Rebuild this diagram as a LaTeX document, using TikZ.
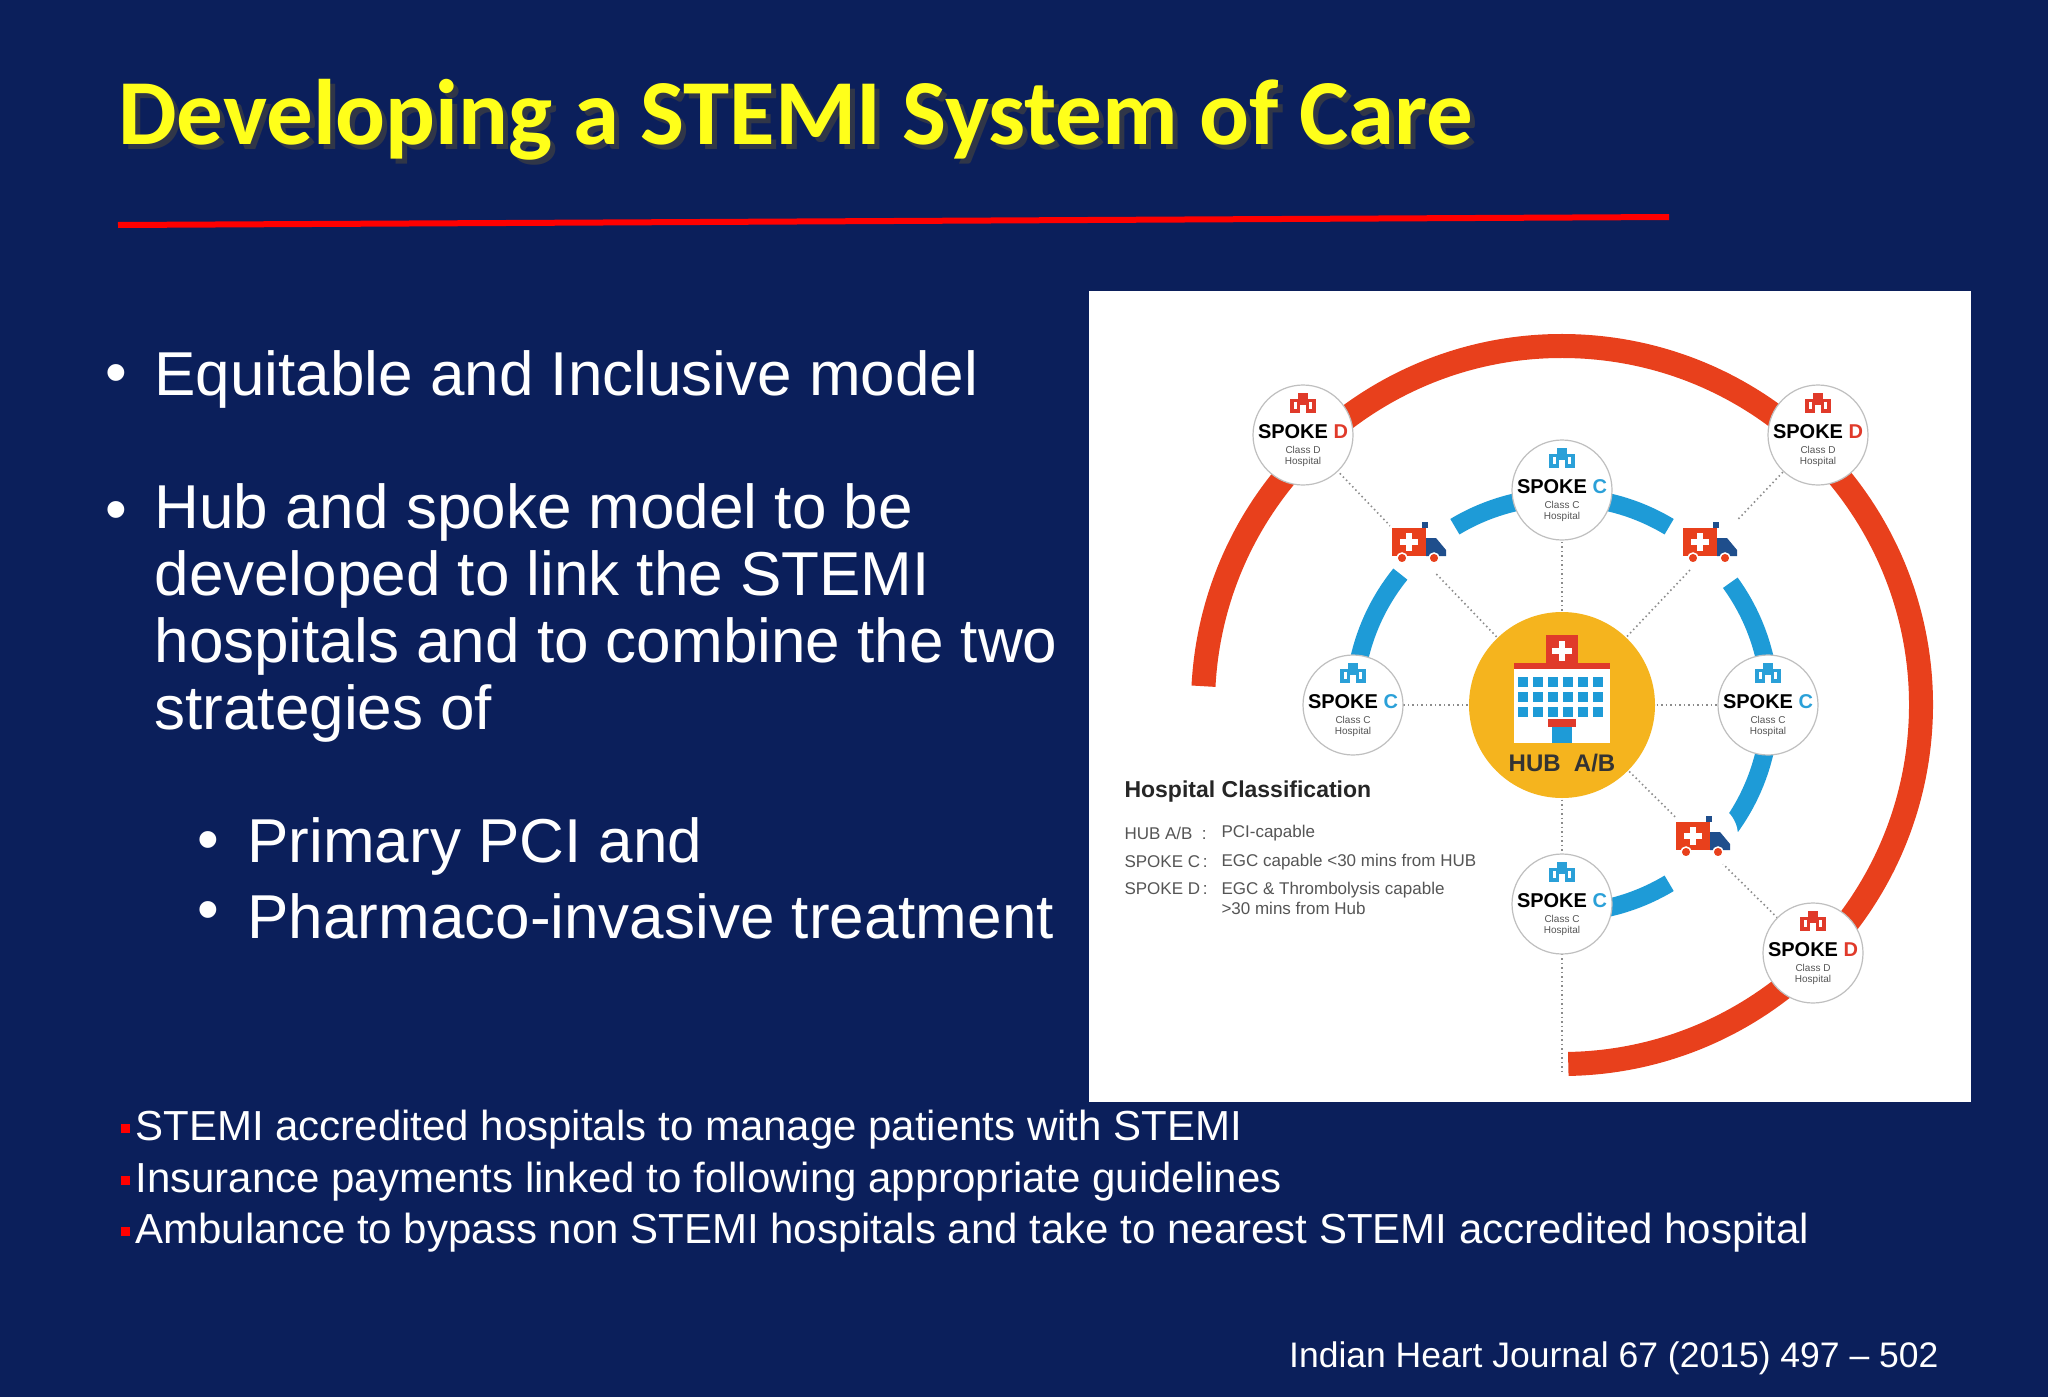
\documentclass[tikz,border=0pt]{standalone}
\usepackage{fontspec}
\setmainfont{Liberation Sans}
\newfontfamily\titlefont{Carlito}
\definecolor{navy}{HTML}{0B1F5B}
\definecolor{ttl}{HTML}{FFFF1A}
\definecolor{redring}{HTML}{E8401C}
\definecolor{bluering}{HTML}{1E9BD7}
\definecolor{hubor}{HTML}{F5B41E}
\definecolor{dred}{HTML}{E03A2A}
\definecolor{cblue}{HTML}{2AA0D8}
\definecolor{cab}{HTML}{1F4E8C}
\definecolor{txtg}{HTML}{555555}
\tikzset{
  spokebox/.style={circle,draw=black!25,line width=1.2pt,fill=white,minimum size=100pt,inner sep=0pt},
  dotl/.style={draw=black!45,line width=1.6pt,dash pattern=on 1.5pt off 3pt},
  body/.style={text=white,anchor=west,font=\fontsize{62}{70}\selectfont},
  small/.style={text=white,anchor=west,font=\fontsize{42}{46}\selectfont},
  cls/.style={anchor=west,text=txtg,font=\fontsize{17}{20}\selectfont},
}
\newcommand\spokenode[4]{% name, pos, letter, color
  \node[spokebox] (#1) at (#2) {};
  \fill[#4] ($(#1.center)+(-13,-36)$) rectangle ($(#1.center)+(13,-22)$);
  \fill[#4] ($(#1.center)+(-5,-42)$) rectangle ($(#1.center)+(5,-30)$);
  \fill[white] ($(#1.center)+(-9,-33)$) rectangle ($(#1.center)+(-6,-26)$);
  \fill[white] ($(#1.center)+(6,-33)$) rectangle ($(#1.center)+(9,-26)$);
  \fill[white] ($(#1.center)+(-3,-30)$) rectangle ($(#1.center)+(3,-22)$);
  \node[font=\bfseries\fontsize{20}{21}\selectfont,inner sep=0pt] at ($(#1.center)+(0,-3)$) {SPOKE \textcolor{#4}{#3}};
  \node[font=\fontsize{10}{11}\selectfont,text=txtg,align=center,inner sep=0pt] at ($(#1.center)+(0,21)$) {Class #3\\Hospital};
}
\newcommand\ambul[2]{% name, pos
  \coordinate (#1) at (#2);
  \fill[redring] ($(#1)+(-28,-14)$) rectangle ($(#1)+(6,14)$);
  \fill[cab] ($(#1)+(6,-4)$) -- ($(#1)+(16,-4)$) -- ($(#1)+(26,8)$) -- ($(#1)+(26,14)$) -- ($(#1)+(6,14)$) -- cycle;
  \fill[cab] ($(#1)+(2,-20)$) rectangle ($(#1)+(8,-14)$);
  \fill[white] ($(#1)+(-14,-9)$) rectangle ($(#1)+(-8,9)$);
  \fill[white] ($(#1)+(-20,-3)$) rectangle ($(#1)+(-2,3)$);
  \fill[redring,draw=white,line width=1.5pt] ($(#1)+(-18,16)$) circle (5);
  \fill[redring,draw=white,line width=1.5pt] ($(#1)+(14,16)$) circle (5);
}
\usetikzlibrary{calc}
\begin{document}
\begin{tikzpicture}[x=1pt,y=-1pt]
\fill[navy] (0,0) rectangle (2048,1397);
\useasboundingbox (0,0) rectangle (2048,1397);
% title
\node[anchor=base west,text=black!75,opacity=0.7,font=\titlefont\bfseries\fontsize{93}{96}\selectfont,inner sep=0pt] at (123,149) {Developing a STEMI System of Care};
\node[anchor=base west,text=ttl,font=\titlefont\bfseries\fontsize{93}{96}\selectfont,inner sep=0pt] (title) at (118,144) {Developing a STEMI System of Care};
\coordinate (l1) at (118,225); \coordinate (l2) at (1669,217);
\draw[red,line width=6pt] (l1) -- (l2);
% bullets
\node[body] (b1) at (102,379) {•};
\node[body] (t1) at (151,379) {Equitable and Inclusive model};
\node[body] (b2) at (102,516) {•};
\node[body,align=left,anchor=north west,font=\fontsize{62}{67}\selectfont] (t2) at (151,480) {Hub and spoke model to be\\developed to link the STEMI\\hospitals and to combine the two\\strategies of};
\node[body] (b3) at (194,846) {•};
\node[body] (t3) at (244,846) {Primary PCI and};
\node[body] (b4) at (194,916) {•};
\node[body] (t4) at (244,916) {Pharmaco-invasive treatment};
% bottom
\foreach \yy/\tt [count=\i] in {1130/STEMI accredited hospitals to manage patients with STEMI,1182/Insurance payments linked to following appropriate guidelines,1233/Ambulance to bypass non STEMI hospitals and take to nearest STEMI accredited hospital}{
  \fill[red] (121,\yy-6) rectangle (130,\yy+3);
  \node[small] (s\i) at (132,\yy) {\tt};
}
\node[anchor=east,text=white,font=\fontsize{35.5}{40}\selectfont] (cite) at (1942,1358) {Indian Heart Journal 67 (2015) 497 – 502};
% panel
\fill[white] (1089,291) rectangle (1971,1102);
\coordinate (hubc) at (1562,705);
% red ring
\draw[redring,line width=24pt] (hubc) ++(-177:359) arc[start angle=-177,end angle=89,radius=359];
% blue arcs
\foreach \a/\b in {-185/-141,-121/-59,-36/37,59/90}{
  \draw[bluering,line width=18pt] (hubc) ++(\a:208) arc[start angle=\a,end angle=\b,radius=208];
}
% positions
\coordinate (pC1) at (1562,490); \coordinate (pC2) at (1353,705);
\coordinate (pC3) at (1768,705); \coordinate (pC4) at (1562,904);
\coordinate (pD1) at (1303,435); \coordinate (pD2) at (1818,435);
\coordinate (pD3) at (1813,953);
\coordinate (bot) at (1562,1075);
% dotted lines
\foreach \p in {pC1,pC2,pC3,pC4,pD1,pD2,pD3}{ \draw[dotl] (hubc) -- (\p); }
\draw[dotl] (pC4) -- (bot);
% hub
\node[circle,fill=hubor,minimum size=186pt,inner sep=0pt] (hub) at (hubc) {};
\fill[white] ($(hubc)+(-48,-38)$) rectangle ($(hubc)+(48,38)$);
\fill[dred] ($(hubc)+(-16,-70)$) rectangle ($(hubc)+(16,-38)$);
\fill[dred] ($(hubc)+(-48,-42)$) rectangle ($(hubc)+(48,-36)$);
\fill[white] ($(hubc)+(-3,-64)$) rectangle ($(hubc)+(3,-44)$);
\fill[white] ($(hubc)+(-10,-57)$) rectangle ($(hubc)+(10,-51)$);
\foreach \i in {0,...,5}{\foreach \j in {0,1,2}{
  \fill[bluering] ($(hubc)+(-44+\i*15,-28+\j*15)$) rectangle ++(10,10);}}
\fill[bluering] ($(hubc)+(-10,20)$) rectangle ($(hubc)+(10,38)$);
\fill[dred] ($(hubc)+(-14,14)$) rectangle ($(hubc)+(14,22)$);
\node[font=\bfseries\fontsize{24}{26}\selectfont,text=black!80,inner sep=0pt] (hublbl) at ($(hubc)+(0,58)$) {HUB\ \ A/B};
% spokes
\spokenode{C1}{pC1}{C}{cblue}
\spokenode{C2}{pC2}{C}{cblue}
\spokenode{C3}{pC3}{C}{cblue}
\spokenode{C4}{pC4}{C}{cblue}
\spokenode{D1}{pD1}{D}{dred}
\spokenode{D2}{pD2}{D}{dred}
\spokenode{D3}{pD3}{D}{dred}
% ambulances
\fill[white] (1420,542) circle (34); \fill[white] (1711,542) circle (34); \fill[white] (1704,836) circle (34);
\ambul{a1}{1420,542}
\ambul{a2}{1711,542}
\ambul{a3}{1704,836}
% classification
\node[anchor=west,font=\bfseries\fontsize{23}{26}\selectfont,text=black!85] (hc) at (1121,792) {Hospital Classification};
\node[cls] (k1) at (1121,833) {HUB A/B\ \ :};
\node[cls] (v1) at (1218,833) {PCI-capable};
\node[cls] (k2) at (1121,862) {SPOKE C\,:};
\node[cls] (v2) at (1218,862) {EGC capable <30 mins from HUB};
\node[cls] (k3) at (1121,889) {SPOKE D\,:};
\node[cls,align=left,anchor=north west] (v3) at (1218,879) {EGC \& Thrombolysis capable\\>30 mins from Hub};
\end{tikzpicture}
\end{document}
